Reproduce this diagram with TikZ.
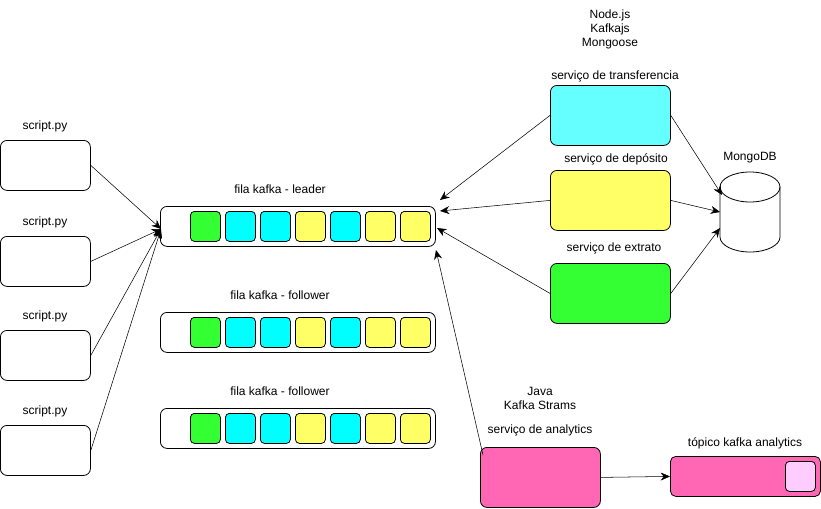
\documentclass[tikz,border=0pt]{standalone}
\usepackage{fontspec}
\setmainfont{Liberation Sans}
\usetikzlibrary{shapes.geometric,arrows.meta}
\begin{document}
\begin{tikzpicture}[x=0.75pt,y=-0.75pt,
  cell/.style={draw,rounded corners=3pt,minimum width=22.5pt,minimum height=22.5pt,inner sep=0pt,anchor=north west},
  lbl/.style={font=\fontsize{9}{10.5}\selectfont,align=center},
  arr/.style={-{Stealth[length=7pt,width=6pt]}},
  every node/.style={line width=0.6pt}]
\useasboundingbox (0,0) rectangle (821,508);
\definecolor{cg}{HTML}{33FF33}\definecolor{cc}{HTML}{00FFFF}\definecolor{cy}{HTML}{FFFF66}
\definecolor{ct}{HTML}{66FFFF}\definecolor{cp}{HTML}{FF66B3}\definecolor{cl}{HTML}{FFCCFF}
% scripts
\foreach \i/\y in {1/140,2/236,3/330,4/425}{
  \node[draw,rounded corners=5pt,minimum width=67.5pt,minimum height=37.5pt,anchor=north west] (s\i) at (0,\y) {};
  \node[lbl] at (45,\y-14) {script.py};
}
% queues
\foreach \q/\y/\t in {L/206/fila kafka - leader,F1/312/fila kafka - follower,F2/408/fila kafka - follower}{
  \node[draw,rounded corners=5pt,minimum width=206.25pt,minimum height=30pt,anchor=north west] (\q) at (160,\y) {};
  \node[lbl] at (280,\y-17) {\t};
  \foreach \x/\c in {190/cg,225/cc,260/cc,295/cy,330/cc,365/cy,400/cy}
    \node[cell,fill=\c] at (\x,\y+5) {};
}
% services
\node[lbl] at (610,29) {Node.js\\Kafkajs\\Mongoose};
\node[draw,rounded corners=5pt,fill=ct,minimum width=90pt,minimum height=45pt,anchor=north west] (t) at (550,85) {};
\node[lbl] at (615,76) {serviço de transferencia};
\node[draw,rounded corners=5pt,fill=cy,minimum width=90pt,minimum height=45pt,anchor=north west] (d) at (550,170) {};
\node[lbl] at (616,159) {serviço de depósito};
\node[draw,rounded corners=5pt,fill=cg,minimum width=90pt,minimum height=45pt,anchor=north west] (e) at (550,263) {};
\node[lbl] at (614,248) {serviço de extrato};
% db
\node[minimum width=45pt,minimum height=60pt,anchor=north,inner sep=0pt] (db) at (750,172) {};
\draw[line width=0.6pt] (750,187) ellipse[x radius=30,y radius=15];
\draw[line width=0.6pt] (720,187) -- (720,237) arc[start angle=180,end angle=0,x radius=30,y radius=15] -- (780,187);
\node[lbl] at (750,158) {MongoDB};
% analytics
\node[lbl] at (540,398) {Java\\Kafka Strams};
\node[lbl] at (540,430) {serviço de analytics};
\node[draw,rounded corners=5pt,fill=cp,minimum width=90pt,minimum height=45pt,anchor=north west] (a) at (480,447) {};
\node[lbl] at (745,443) {tópico kafka analytics};
\node[draw,rounded corners=4pt,fill=cp,minimum width=112.5pt,minimum height=30pt,anchor=north west] (k) at (670,456) {};
\node[cell,fill=cl] (ki) at (785,461) {};
% arrows
\coordinate (in) at (161,229);
\foreach \i in {1,...,4} \draw[arr] (s\i.east) -- (in);
\coordinate (t1) at (440,200); \coordinate (d1) at (440,211);
\coordinate (e1) at (437,228); \coordinate (a1) at (436,250);
\draw[arr] (t.west) -- (t1);
\draw[arr] (d.west) -- (d1);
\draw[arr] (e.west) -- (e1);
\draw[arr] (a.north west) ++(3,8) -- (a1);
\coordinate (m1) at (722,195); \coordinate (m2) at (720,212); \coordinate (m3) at (720,228);
\draw[arr] (t.east) -- (m1);
\draw[arr] (d.east) -- (m2);
\draw[arr] (e.east) -- (m3);
\draw[arr] (a.east) -- (k.west);
\end{tikzpicture}
\end{document}
